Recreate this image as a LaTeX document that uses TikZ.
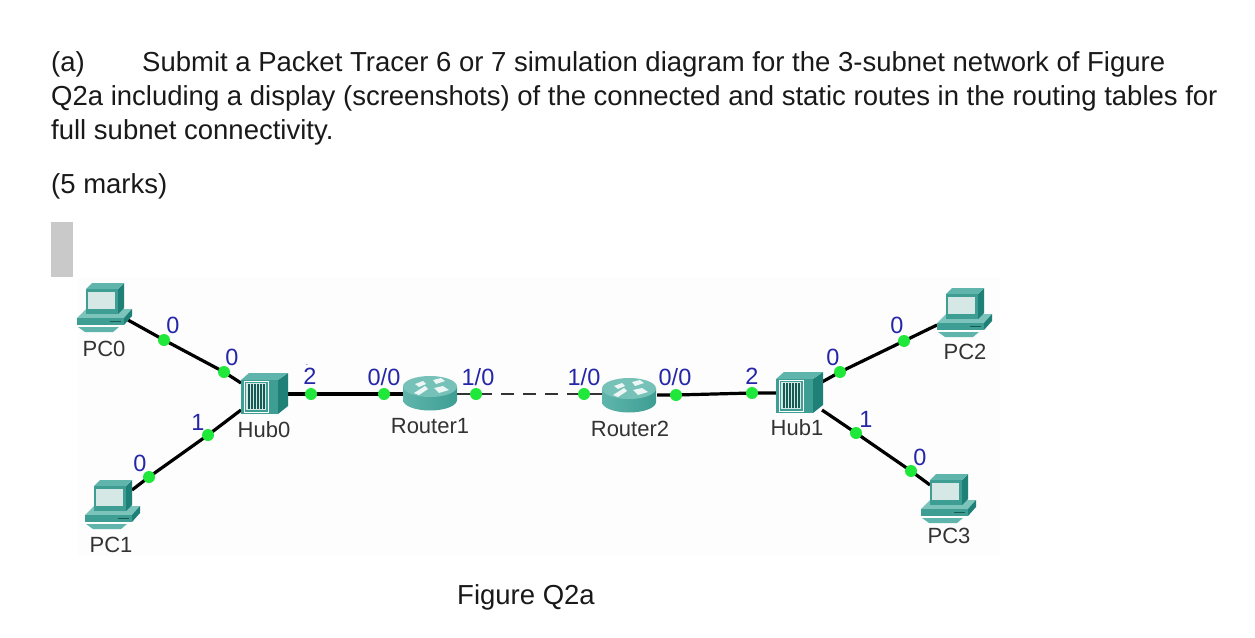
\documentclass[tikz,border=0pt]{standalone}
\usepackage{fontspec}
\setmainfont{Liberation Sans}
\usetikzlibrary{backgrounds}
\definecolor{tealA}{HTML}{3E9E94}
\definecolor{tealB}{HTML}{5FB5AB}
\definecolor{tealC}{HTML}{1F8078}
\definecolor{tealD}{HTML}{7CC4BB}
\definecolor{screenC}{HTML}{D5E8E6}
\definecolor{portblue}{HTML}{2626A8}
\definecolor{dotgreen}{HTML}{1FE83A}
\tikzset{
  x=1pt,y=-1pt,
  body/.style={font=\fontsize{27.5}{34}\selectfont,anchor=base west,inner sep=0pt,text=black!90},
  devlbl/.style={font=\fontsize{22}{24}\selectfont,anchor=base,inner sep=0pt,text=black!80},
  port/.style={font=\fontsize{23.5}{25}\selectfont,anchor=base,inner sep=0pt,text=portblue},
  dot/.style={circle,fill=dotgreen,draw=none,minimum size=12pt,inner sep=0pt},
  cable/.style={line width=3.2pt,black},
  dashcable/.style={line width=2pt,black!80,dash pattern=on 13pt off 9pt},
  pc/.pic={
    % base
    \fill[tealD] (0,36)--(9,27)--(55,27)--(47,36)--cycle;
    \fill[tealC] (47,36)--(55,27)--(55,34)--(47,43)--cycle;
    \fill[tealA] (0,36)--(47,36)--(47,43)--(0,43)--cycle;
    \draw[tealC!70!black,line width=1pt] (33,39)--(44,39);
    \fill[tealB] (1,45)--(42,45)--(36,50)--(8,50)--cycle;
    % monitor
    \fill[tealC] (41,7)--(47,1)--(47,26)--(41,32)--cycle;
    \fill[tealB] (9,7)--(15,1)--(47,1)--(41,7)--cycle;
    \fill[tealA] (9,7)--(41,7)--(41,32)--(9,32)--cycle;
    \fill[screenC] (11,10)--(38,10)--(38,27)--(11,27)--cycle;
  },
  hub/.pic={
    \fill[tealC] (37,7)--(47,0)--(47,33)--(37,41)--cycle;
    \fill[tealB] (0,7)--(8,0)--(47,0)--(37,7)--cycle;
    \fill[tealA] (0,7)--(37,7)--(37,41)--(0,41)--cycle;
    \draw[white,line width=1pt] (3,8) rectangle (27,39);
    \fill[screenC] (5,10) rectangle (25,37);
    \foreach \k in {7,10,13,16,19,22} \fill[tealC!70!black] (\k,11) rectangle (\k+1.6,36);
  },
  router/.pic={
    \shade[left color=tealB,middle color=white!85!tealD,right color=tealA]
      (0,10.5) -- (0,24) arc[start angle=180,end angle=0,x radius=27,y radius=10.5] -- (54,10.5) -- cycle;
    \fill[tealD!80!tealB] (27,10.5) ellipse[x radius=27,y radius=10.5];
    \fill[white!85!tealD] (12,8)--(20,5)--(23,8)--(16,11)--cycle;
    \fill[white!85!tealD] (30,4)--(38,2)--(42,5)--(33,8)--cycle;
    \fill[white!85!tealD] (31,12)--(40,10)--(46,14)--(36,17)--cycle;
    \fill[white!85!tealD] (11,17)--(22,10)--(25,13)--(16,19)--cycle;
  },
}
\begin{document}
\begin{tikzpicture}
\useasboundingbox (0,0) rectangle (1255,637);
\fill[black!21] (51,222) rectangle (73,277);

% text
\node[body] (la) at (51,71.5) {(a)};
\node[body] (l1) at (142,71.5) {Submit a Packet Tracer 6 or 7 simulation diagram for the 3-subnet network of Figure};
\node[body] (l2) at (51,105.5) {Q2a including a display (screenshots) of the connected and static routes in the routing tables for};
\node[body] (l3) at (51,139.5) {full subnet connectivity.};
\node[body] (l4) at (51,193.5) {(5 marks)};
\node[body] (cap) at (457,604) {Figure Q2a};

% connector ends
\coordinate (pc0) at (128,320);
\coordinate (pc1) at (132,490);
\coordinate (pc2) at (937,325);
\coordinate (pc3) at (930,485);
\coordinate (hub0a) at (241,383);
\coordinate (hub0b) at (241,410);
\coordinate (hub0c) at (288,394);
\coordinate (hub1a) at (822,382);
\coordinate (hub1b) at (822,410);
\coordinate (hub1c) at (776,393);
\coordinate (r1w) at (403,394);
\coordinate (r1e) at (457,394);
\coordinate (r2w) at (602,394);
\coordinate (r2e) at (657,395);

% link lights
\node[dot] (d1) at (164,340) {};
\node[dot] (d2) at (224,372) {};
\node[dot] (d3) at (208,435) {};
\node[dot] (d4) at (149,477) {};
\node[dot] (d5) at (311,394) {};
\node[dot] (d6) at (384,394) {};
\node[dot] (d7) at (476,394) {};
\node[dot] (d8) at (584,394) {};
\node[dot] (d9) at (676,395) {};
\node[dot] (d10) at (752,393) {};
\node[dot] (d11) at (840,372) {};
\node[dot] (d12) at (904,341) {};
\node[dot] (d13) at (856,433) {};
\node[dot] (d14) at (911,471) {};

\begin{scope}[on background layer]
\fill[black!0.6] (78,277) rectangle (1000,556);
\draw[cable] (pc0) -- (d1.center) -- (d2.center) -- (hub0a);
\draw[cable] (pc1) -- (d4.center) -- (d3.center) -- (hub0b);
\draw[cable] (hub0c) -- (d5.center) -- (d6.center) -- (r1w);
\draw[dashcable] (r1e) -- (d7.center) -- (d8.center) -- (r2w);
\draw[cable] (r2e) -- (d9.center) -- (d10.center) -- (hub1c);
\draw[cable] (hub1a) -- (d11.center) -- (d12.center) -- (pc2);
\draw[cable] (hub1b) -- (d13.center) -- (d14.center) -- (pc3);
\end{scope}

% devices
\pic at (77,282) {pc};
\pic at (85,479) {pc};
\pic at (937,287) {pc};
\pic at (921,473) {pc};
\pic at (241,373) {hub};
\pic at (776,372) {hub};
\pic at (403,376) {router};
\pic at (602,378) {router};

% device labels
\node[devlbl] (tpc0) at (104,356) {PC0};
\node[devlbl] (tpc1) at (111,552) {PC1};
\node[devlbl] (tpc2) at (965,359) {PC2};
\node[devlbl] (tpc3) at (949,543) {PC3};
\node[devlbl] (thub0) at (264,437) {Hub0};
\node[devlbl] (thub1) at (797,435) {Hub1};
\node[devlbl] (tr1) at (430,433) {Router1};
\node[devlbl] (tr2) at (630,436) {Router2};

% port labels
\node[port] (p1) at (173,333) {0};
\node[port] (p2) at (232,365) {0};
\node[port] (p3) at (198,430) {1};
\node[port] (p4) at (140,471) {0};
\node[port] (p5) at (310,384) {2};
\node[port] (p5b) at (307,365) {\fontsize{8}{8}\selectfont .};
\node[port] (p6) at (384,385) {0/0};
\node[port] (p7) at (478,385) {1/0};
\node[port] (p8) at (584,385) {1/0};
\node[port] (p9) at (675,385) {0/0};
\node[port] (p10) at (752,384) {2};
\node[port] (p11) at (833,365) {0};
\node[port] (p12) at (897,333) {0};
\node[port] (p13) at (866,427) {1};
\node[port] (p14) at (920,465) {0};
\end{tikzpicture}
\end{document}
